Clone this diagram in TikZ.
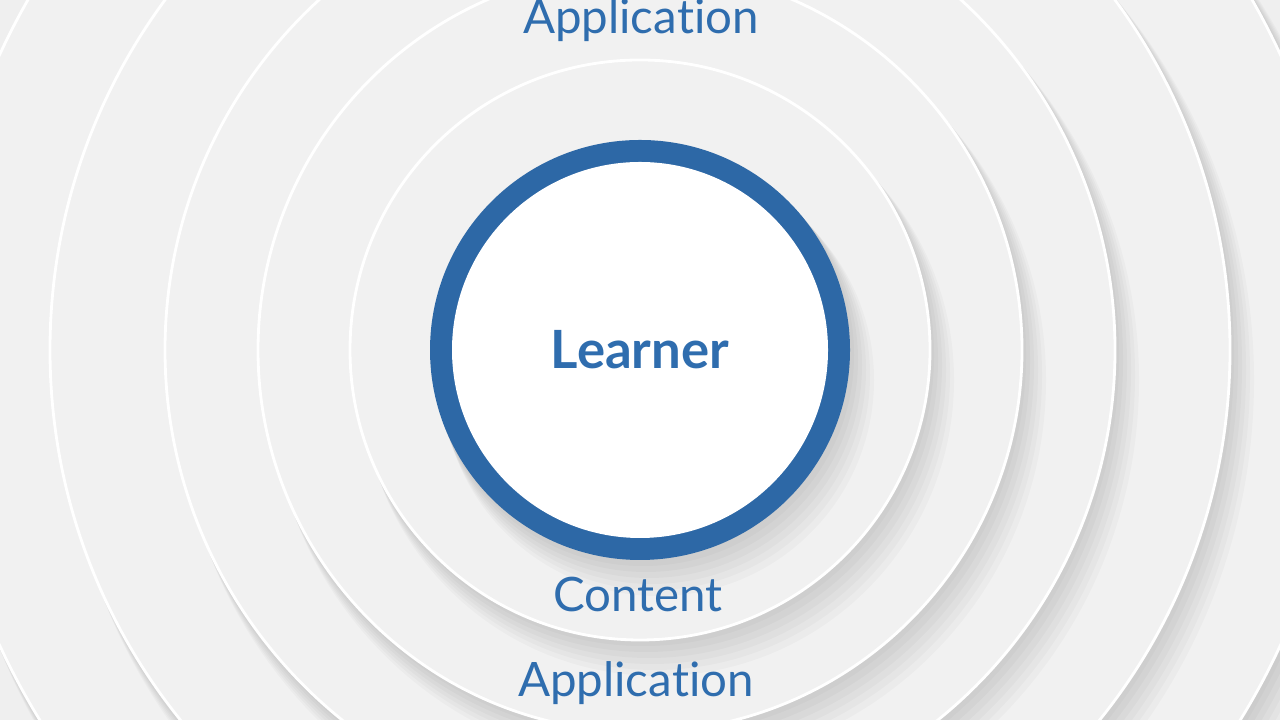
\documentclass[tikz,border=0pt]{standalone}
\usepackage{fontspec}
\setmainfont[Ligatures={NoCommon,NoRare,NoContextual}]{Lato}
\definecolor{bg}{HTML}{EFEFEF}
\definecolor{ringfill}{HTML}{F1F1F1}
\definecolor{blu}{HTML}{2D68A6}
\definecolor{txt}{HTML}{2F6DAE}
\tikzset{
  ring/.style={fill=ringfill, draw=white, line width=0.8pt},
  lbl/.style={text=txt, font=\fontsize{13.5}{15}\selectfont},
}
\newcommand{\softshadow}[1]{%
  \foreach \k in {1,...,6}{
    \fill[black, opacity=0.025] (6.4+0.03*\k,3.7-0.05*\k) circle ({#1+0.01*\k});
  }}
\begin{document}
\begin{tikzpicture}
\useasboundingbox (0,0) rectangle (12.8,7.2);
\fill[bg] (0,0) rectangle (12.8,7.2);
\coordinate (c) at (6.4,3.7);
\begin{scope}
\clip (0,0) rectangle (12.8,7.2);
\foreach \r in {7.05,5.9,4.75,3.82,2.9}{
  \softshadow{\r}
  \filldraw[ring] (c) circle (\r);
}
\softshadow{2.1}
\fill[blu] (c) circle (2.1);
\fill[white] (c) circle (1.88);
\end{scope}
\node[lbl, font=\fontsize{15}{17}\selectfont\bfseries] (learner) at (c) {Learner};
\node[lbl] (content) at (6.38,1.25) {Content};
\node[lbl] (app1) at (6.36,0.37) {Applica\kern0pt tion};
\node[lbl] (app2) at (6.41,7.0) {Applica\kern0pt tion};
\end{tikzpicture}
\end{document}
